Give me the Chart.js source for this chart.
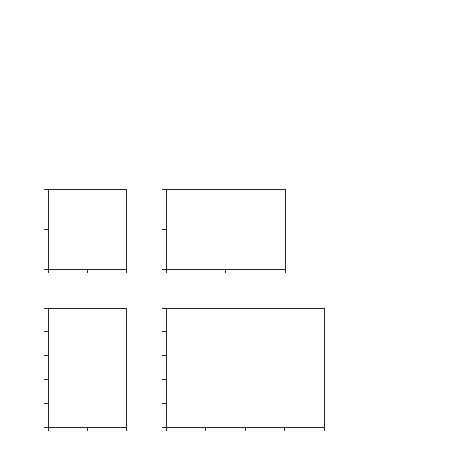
<!DOCTYPE html>
<html>
<head>
<meta charset="utf-8">
<script src="https://cdn.jsdelivr.net/npm/chart.js@4/dist/chart.umd.min.js"></script>
<style>
  html, body { margin: 0; padding: 0; background: #fff; }
  #wrap { position: relative; width: 474px; height: 474px; }
  canvas { position: absolute; }
</style>
</head>
<body>
<div id="wrap"></div>
<script>
// Panels (all empty axes, no labels)
const panelNames = ["a", "b", "c", "d"];
const xTicksA = [0, 1, 2];
const yTicksA = [0, 1, 2];
const xTicksB = [0, 1, 2];
const yTicksB = [0, 1, 2];
const xTicksC = [0, 1, 2];
const yTicksC = [0, 1, 2, 3, 4, 5];
const xTicksD = [0, 1, 2, 3, 4];
const yTicksD = [0, 1, 2, 3, 4, 5];
const seriesA = [];
const seriesB = [];
const seriesC = [];
const seriesD = [];

// Plot-area rectangles in page pixels: [left, top, width, height]
const boxes = {
  a: [48, 189, 78, 80],
  b: [166, 189, 119, 80],
  c: [48, 308, 78, 119],
  d: [166, 308, 158, 119],
};

const ticks = {
  a: [xTicksA, yTicksA, seriesA],
  b: [xTicksB, yTicksB, seriesB],
  c: [xTicksC, yTicksC, seriesC],
  d: [xTicksD, yTicksD, seriesD],
};

const INK = "#262626";
const TICK = 4;
const PAD = 2;

function mainAxis(vals, position) {
  return {
    type: "linear",
    position: position,
    min: vals[0],
    max: vals[vals.length - 1],
    ticks: { display: false, stepSize: 1 },
    grid: {
      display: true,
      drawOnChartArea: false,
      drawTicks: true,
      tickLength: TICK,
      color: INK,
      lineWidth: 1,
    },
    border: { display: true, color: INK, width: 1 },
  };
}

function spine(position, axis) {
  return {
    type: "linear",
    position: position,
    axis: axis,
    min: 0,
    max: 1,
    ticks: { display: false },
    grid: { display: false, drawTicks: false },
    border: { display: true, color: INK, width: 1 },
  };
}

function makePanel(name) {
  const [L, T, W, H] = boxes[name];
  const [xv, yv, data] = ticks[name];
  const canvas = document.createElement("canvas");
  const cw = W + TICK + 2 * PAD;
  const ch = H + TICK + 2 * PAD;
  canvas.width = cw;
  canvas.height = ch;
  canvas.style.width = cw + "px";
  canvas.style.height = ch + "px";
  canvas.style.left = L - TICK - PAD + "px";
  canvas.style.top = T - PAD + "px";
  document.getElementById("wrap").appendChild(canvas);

  new Chart(canvas.getContext("2d"), {
    type: "scatter",
    data: { datasets: [{ data: data, xAxisID: "x", yAxisID: "y" }] },
    options: {
      responsive: false,
      animation: false,
      events: [],
      layout: { padding: PAD },
      plugins: { legend: { display: false }, tooltip: { enabled: false } },
      scales: {
        x: mainAxis(xv, "bottom"),
        y: mainAxis(yv, "left"),
        x2: spine("top", "x"),
        y2: spine("right", "y"),
      },
    },
  });
}

panelNames.forEach(makePanel);
</script>
</body>
</html>
